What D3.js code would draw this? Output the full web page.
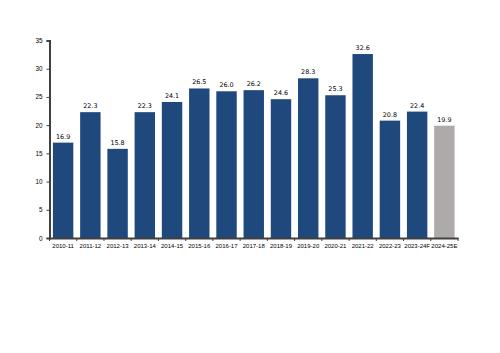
<!DOCTYPE html>
<html>
<head>
<meta charset="utf-8">
<script src="https://cdn.jsdelivr.net/npm/d3@7"></script>
<style>
  html, body { margin: 0; padding: 0; background: #fff; }
  svg { display: block; font-family: "DejaVu Sans", sans-serif; }
</style>
</head>
<body>
<div id="chart"></div>
<script>
// Dữ liệu biểu đồ
const years = ["2010-11", "2011-12", "2012-13", "2013-14", "2014-15", "2015-16", "2016-17",
    "2017-18", "2018-19", "2019-20", "2020-21", "2021-22", "2022-23", "2023-24F", "2024-25E"];
const values = [16.9, 22.3, 15.8, 22.3, 24.1, 26.5, 26.0, 26.2, 24.6, 28.3, 25.3, 32.6, 20.8, 22.4, 19.9];
const estimated = ["2024-25E"];
const yTicks = [0, 5, 10, 15, 20, 25, 30, 35];

const width = 500, height = 353;
const margin = { left: 49.5, right: 42, top: 40.5, bottom: 115 };

const svg = d3.select("#chart").append("svg")
    .attr("width", width)
    .attr("height", height);

// Thang đo
const x = d3.scaleBand()
    .domain(years)
    .range([margin.left, width - margin.right])
    .paddingInner(0.25)
    .paddingOuter(0.125);

const y = d3.scaleLinear()
    .domain([0, 35])
    .range([height - margin.bottom, margin.top]);

// Cột
svg.append("g").selectAll("rect")
    .data(years)
    .enter()
    .append("rect")
    .attr("x", d => x(d))
    .attr("width", x.bandwidth())
    .attr("y", (d, i) => y(values[i]))
    .attr("height", (d, i) => y(0) - y(values[i]))
    .attr("fill", d => estimated.includes(d) ? "#aeaaaa" : "#1f497d");

// Nhãn giá trị
svg.append("g").selectAll("text")
    .data(years)
    .enter()
    .append("text")
    .attr("x", d => x(d) + x.bandwidth() / 2)
    .attr("y", (d, i) => y(values[i]) - 4)
    .attr("text-anchor", "middle")
    .attr("font-size", "6.4px")
    .attr("fill", "#000")
    .text((d, i) => values[i].toFixed(1));

// Trục Y
const yAxis = svg.append("g")
    .attr("transform", `translate(${margin.left},0)`)
    .call(d3.axisLeft(y).tickValues(yTicks).tickSize(3).tickPadding(4));
yAxis.select(".domain").attr("stroke", "#404040").attr("stroke-width", 2);
yAxis.selectAll(".tick line").attr("stroke", "#404040");
yAxis.selectAll("text").attr("font-size", "6.4px").attr("fill", "#000");

// Trục X
const xAxis = svg.append("g")
    .attr("transform", `translate(0,${y(0)})`)
    .call(d3.axisBottom(x).tickSize(0).tickPadding(6).tickSizeOuter(0));
xAxis.select(".domain").attr("stroke", "#404040").attr("stroke-width", 2);
xAxis.selectAll("text").attr("font-size", "6px").attr("fill", "#000");

// Vạch chia giữa các nhóm
const step = x.step();
const bounds = years.map((d, i) => margin.left + i * step).concat([width - margin.right]);
svg.append("g").selectAll("line")
    .data(bounds)
    .enter()
    .append("line")
    .attr("x1", d => d)
    .attr("x2", d => d)
    .attr("y1", y(0))
    .attr("y2", y(0) + 3)
    .attr("stroke", "#404040");
</script>
</body>
</html>
